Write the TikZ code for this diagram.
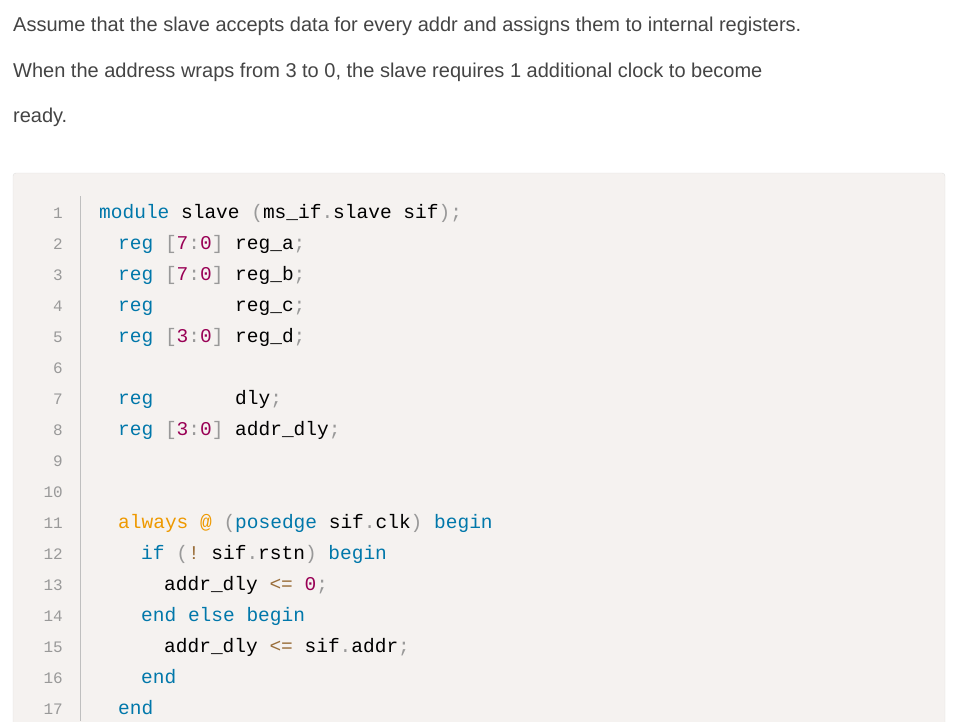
\documentclass[tikz,border=0pt]{standalone}
\usepackage{fontspec}
\setmainfont{Liberation Sans}
\setmonofont{Liberation Mono}
\definecolor{txt}{HTML}{444444}
\definecolor{bg}{HTML}{F5F2F0}
\definecolor{kw}{HTML}{0077AA}
\definecolor{num}{HTML}{990055}
\definecolor{pun}{HTML}{999999}
\definecolor{orn}{HTML}{EE9900}
\definecolor{opr}{HTML}{9A6E3A}
\definecolor{lnum}{HTML}{999999}
\newcommand{\cdKw}[1]{\textcolor{kw}{#1}}
\newcommand{\cdNu}[1]{\textcolor{num}{#1}}
\newcommand{\cdPu}[1]{\textcolor{pun}{#1}}
\newcommand{\cdOr}[1]{\textcolor{orn}{#1}}
\newcommand{\cdOp}[1]{\textcolor{opr}{#1}}
\begin{document}
\begin{tikzpicture}[x=1pt,y=-1pt,
  para/.style={anchor=base west,inner sep=0pt,font=\fontsize{20}{20}\selectfont,text=txt},
  code/.style={anchor=base west,inner sep=0pt,font=\ttfamily\fontsize{19.5}{20}\selectfont},
  ln/.style={anchor=base east,inner sep=0pt,font=\ttfamily\fontsize{16}{16}\selectfont,text=lnum}]
\useasboundingbox (0,0) rectangle (953,721);
\node[para] (p1) at (13,31) {Assume that the slave accepts data for every addr and assigns them to internal registers.};
\node[para] (p2) at (13,77) {When the address wraps from 3 to 0, the slave requires 1 additional clock to become};
\node[para] (p3) at (13,122) {ready.};
\path[fill=bg,draw=black!12,rounded corners=3pt] (13,173) rectangle (945,740);
\draw[black!25] (80,196) -- (80,721);
\foreach \i in {1,...,17}{
  \node[ln] (n\i) at (63,{218+31*(\i-1)}) {\i};
}
\node[code] (c1) at (99,218) {\cdKw{module} slave \cdPu{(}ms\_if\cdPu{.}slave sif\cdPu{);}};
\node[code] (c2) at (118,249) {\cdKw{reg} \cdPu{[}\cdNu{7}\cdPu{:}\cdNu{0}\cdPu{]} reg\_a\cdPu{;}};
\node[code] (c3) at (118,280) {\cdKw{reg} \cdPu{[}\cdNu{7}\cdPu{:}\cdNu{0}\cdPu{]} reg\_b\cdPu{;}};
\node[code] (c4) at (118,311) {\cdKw{reg}\ \ \ \ \ \ \ reg\_c\cdPu{;}};
\node[code] (c5) at (118,342) {\cdKw{reg} \cdPu{[}\cdNu{3}\cdPu{:}\cdNu{0}\cdPu{]} reg\_d\cdPu{;}};
\node[code] (c7) at (118,404) {\cdKw{reg}\ \ \ \ \ \ \ dly\cdPu{;}};
\node[code] (c8) at (118,435) {\cdKw{reg} \cdPu{[}\cdNu{3}\cdPu{:}\cdNu{0}\cdPu{]} addr\_dly\cdPu{;}};
\node[code] (c11) at (118,528) {\cdOr{always} \cdOr{@} \cdPu{(}\cdKw{posedge} sif\cdPu{.}clk\cdPu{)} \cdKw{begin}};
\node[code] (c12) at (141,559) {\cdKw{if} \cdPu{(}\cdOp{!} sif\cdPu{.}rstn\cdPu{)} \cdKw{begin}};
\node[code] (c13) at (164,590) {addr\_dly \cdOp{<=} \cdNu{0}\cdPu{;}};
\node[code] (c14) at (141,621) {\cdKw{end} \cdKw{else} \cdKw{begin}};
\node[code] (c15) at (164,652) {addr\_dly \cdOp{<=} sif\cdPu{.}addr\cdPu{;}};
\node[code] (c16) at (141,683) {\cdKw{end}};
\node[code] (c17) at (118,714) {\cdKw{end}};
\end{tikzpicture}
\end{document}
